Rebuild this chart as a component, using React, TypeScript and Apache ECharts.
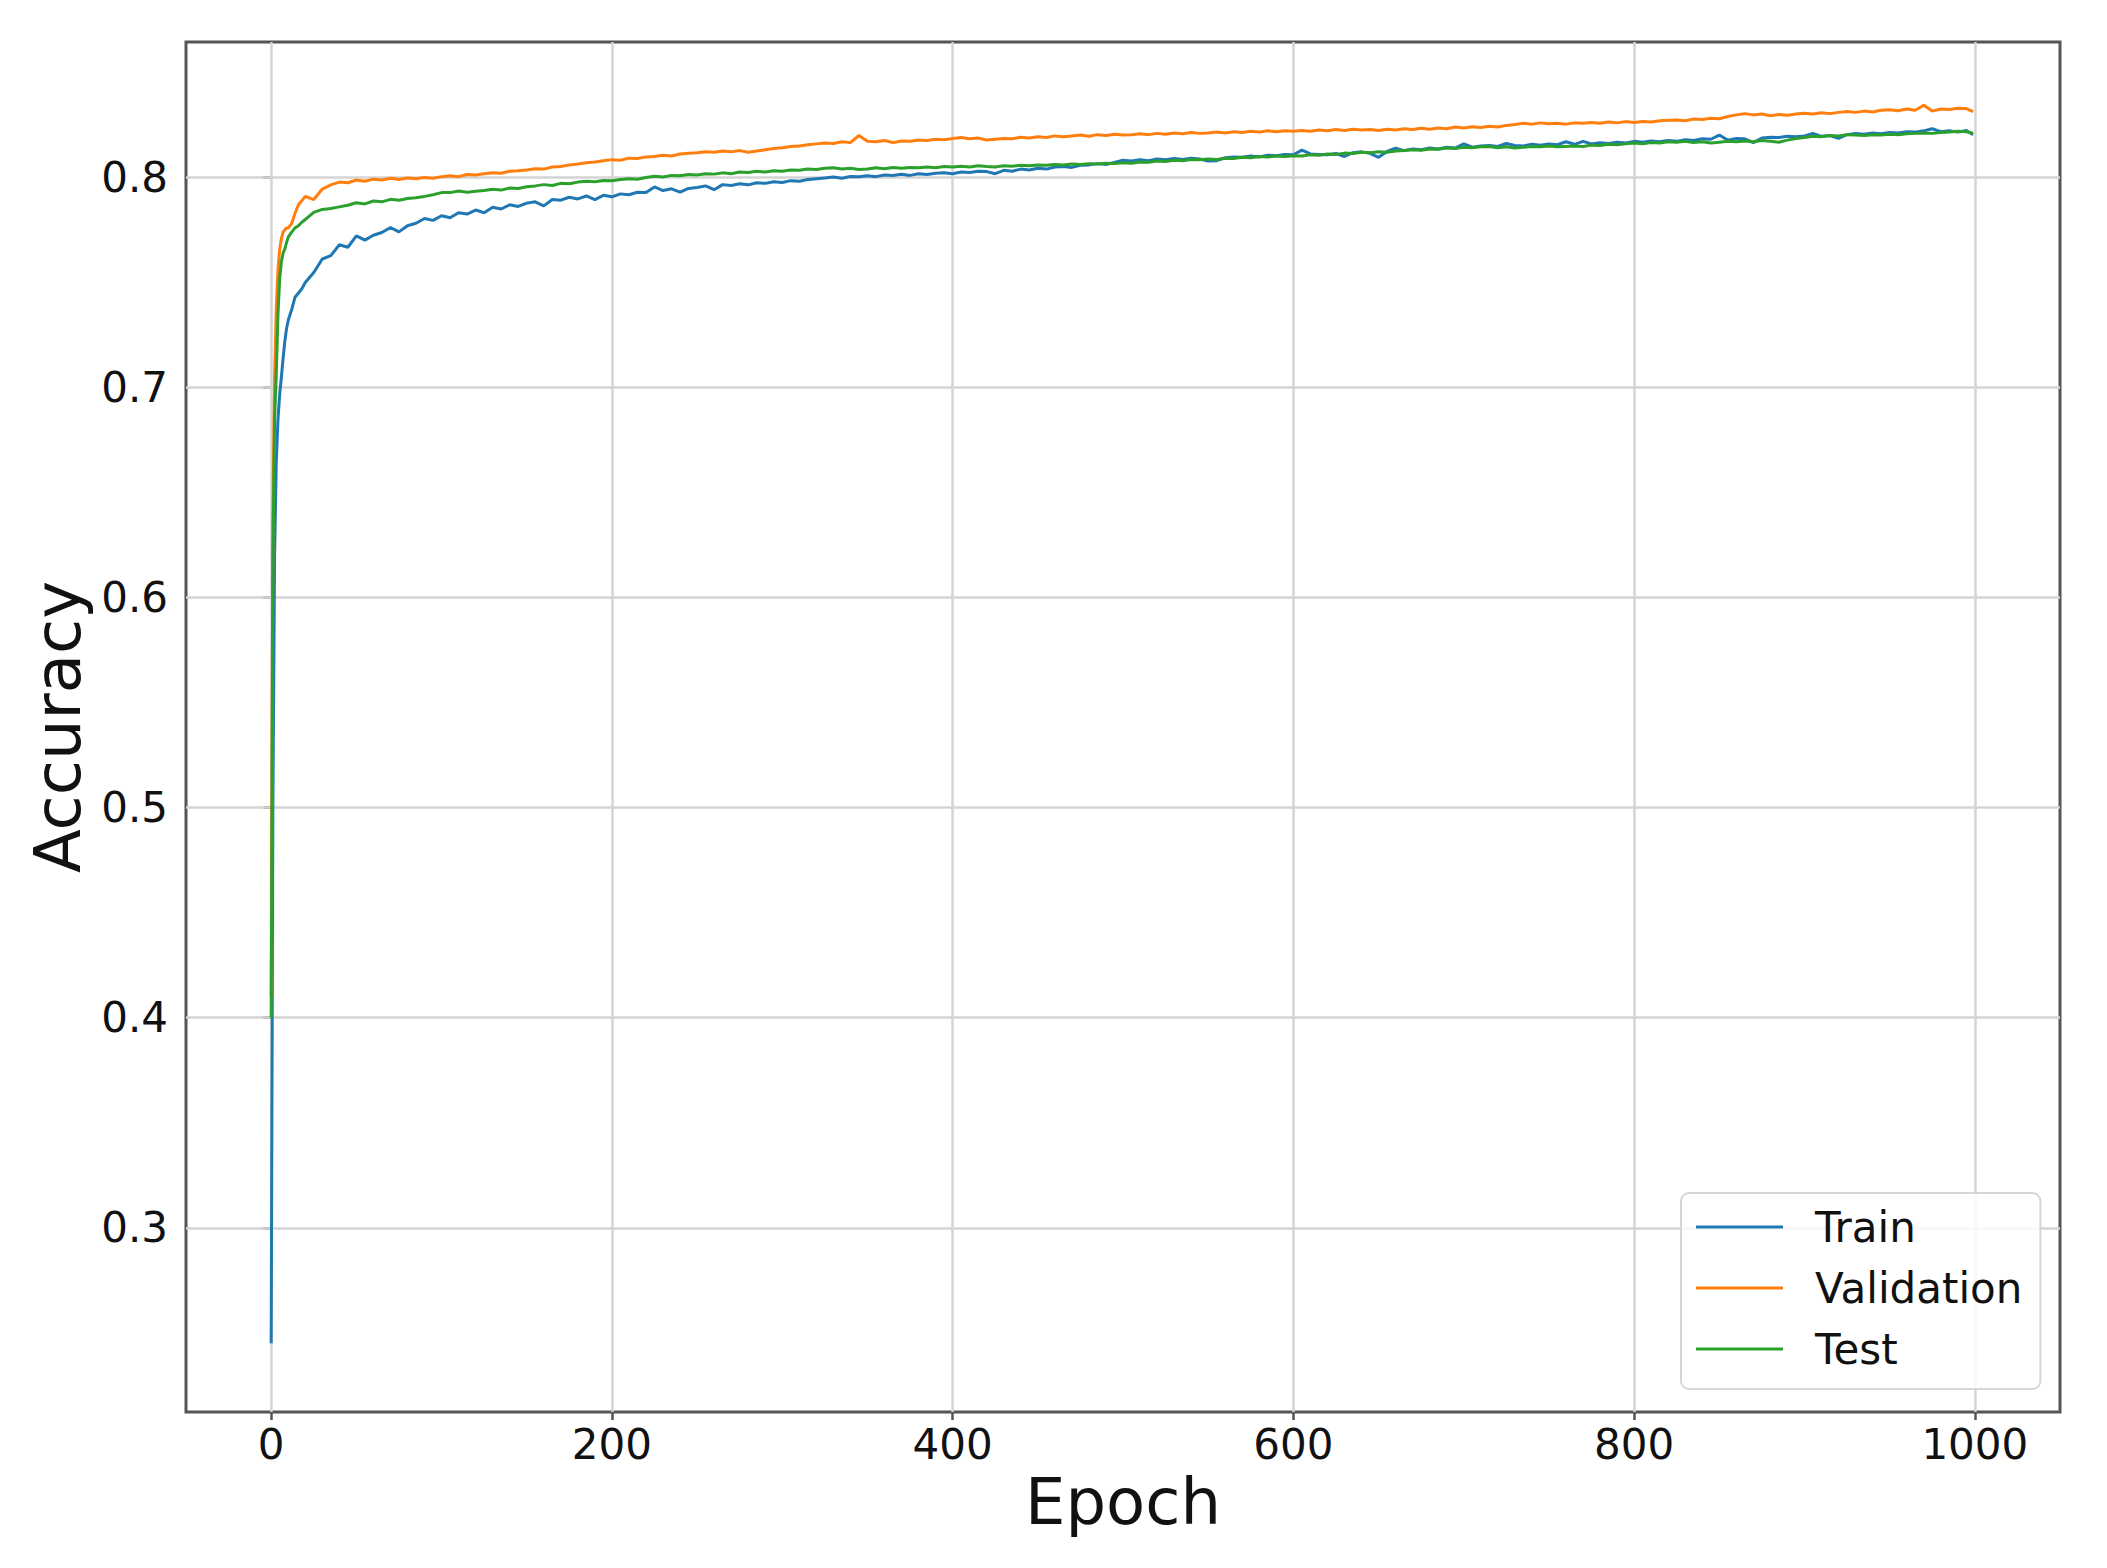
import React, { useEffect, useRef } from "react";
import * as echarts from "echarts";

const EPOCHS = [
  0, 1, 2, 3, 4, 5, 6, 7, 8, 9, 10, 12, 14, 16, 18,
  20, 25, 30, 35, 40, 45, 50, 55, 60, 65,
  70, 75, 80, 85, 90, 95, 100, 105, 110, 115,
  120, 125, 130, 135, 140, 145, 150, 155, 160, 165,
  170, 175, 180, 185, 190, 195, 200, 205, 210, 215,
  220, 225, 230, 235, 240, 245, 250, 255, 260, 265,
  270, 275, 280, 285, 290, 295, 300, 305, 310, 315,
  320, 325, 330, 335, 340, 345, 350, 355, 360, 365,
  370, 375, 380, 385, 390, 395, 400, 405, 410, 415,
  420, 425, 430, 435, 440, 445, 450, 455, 460, 465,
  470, 475, 480, 485, 490, 495, 500, 505, 510, 515,
  520, 525, 530, 535, 540, 545, 550, 555, 560, 565,
  570, 575, 580, 585, 590, 595, 600, 605, 610, 615,
  620, 625, 630, 635, 640, 645, 650, 655, 660, 665,
  670, 675, 680, 685, 690, 695, 700, 705, 710, 715,
  720, 725, 730, 735, 740, 745, 750, 755, 760, 765,
  770, 775, 780, 785, 790, 795, 800, 805, 810, 815,
  820, 825, 830, 835, 840, 845, 850, 855, 860, 865,
  870, 875, 880, 885, 890, 895, 900, 905, 910, 915,
  920, 925, 930, 935, 940, 945, 950, 955, 960, 965,
  970, 975, 980, 985, 990, 995, 999,
];

const TRAIN = [
  0.245, 0.5, 0.62, 0.665, 0.685, 0.697, 0.705, 0.714, 0.722, 0.728, 0.732, 0.737, 0.743, 0.745, 0.747,
  0.75, 0.7548, 0.7612, 0.7628, 0.768, 0.7668, 0.7722, 0.7702, 0.7725, 0.7738,
  0.7762, 0.7741, 0.777, 0.7782, 0.7805, 0.7796, 0.7818, 0.7808, 0.7832, 0.7826,
  0.7845, 0.7832, 0.7858, 0.785, 0.787, 0.7862, 0.7878, 0.7884, 0.7865, 0.7895,
  0.7892, 0.7906, 0.7898, 0.7912, 0.7895, 0.7915, 0.7908, 0.7922, 0.7918, 0.793,
  0.7928, 0.7955, 0.7938, 0.7946, 0.793, 0.7948, 0.7952, 0.796, 0.7942, 0.7966,
  0.7962, 0.797, 0.7965, 0.7975, 0.7972, 0.798, 0.7976, 0.7985, 0.7982, 0.799,
  0.7994, 0.7998, 0.8002, 0.7996, 0.8005, 0.8003, 0.8008, 0.8004, 0.8012, 0.801,
  0.8015, 0.801, 0.8018, 0.8014, 0.802, 0.8022, 0.8018, 0.8026, 0.8024, 0.803,
  0.8028, 0.8018, 0.8034, 0.803, 0.804, 0.8036, 0.8044, 0.804, 0.805, 0.8052,
  0.8048, 0.8058, 0.806, 0.8066, 0.8062, 0.8072, 0.8082, 0.8078, 0.8084, 0.808,
  0.8088, 0.8084, 0.809, 0.8086, 0.8092, 0.8088, 0.8078, 0.808, 0.8094, 0.8098,
  0.8096, 0.8102, 0.8098, 0.8106, 0.8104, 0.811, 0.8108, 0.813, 0.8112, 0.811,
  0.8108, 0.8114, 0.81, 0.8118, 0.8122, 0.8115, 0.8096, 0.8124, 0.814, 0.8128,
  0.8136, 0.8132, 0.814, 0.8136, 0.8144, 0.814, 0.816, 0.8144, 0.815, 0.8152,
  0.8148, 0.8162, 0.8152, 0.815, 0.8158, 0.8154, 0.816, 0.8156, 0.817, 0.8158,
  0.8172, 0.816, 0.8166, 0.8162, 0.8168, 0.8164, 0.8172, 0.8168, 0.8174, 0.817,
  0.8176, 0.8172, 0.818, 0.8176, 0.8184, 0.8182, 0.8202, 0.8178, 0.8186, 0.8184,
  0.8166, 0.8188, 0.8192, 0.819, 0.8196, 0.8194, 0.8198, 0.821, 0.8196, 0.82,
  0.8186, 0.8204, 0.821, 0.8206, 0.8212, 0.8208, 0.8214, 0.8212, 0.8218, 0.8216,
  0.8222, 0.8232, 0.8218, 0.8222, 0.8216, 0.8224, 0.8203,
];

const VALIDATION = [
  0.41, 0.64, 0.705, 0.738, 0.756, 0.766, 0.771, 0.774, 0.775, 0.776, 0.776, 0.778, 0.783, 0.787, 0.789,
  0.791, 0.7895, 0.7945, 0.7965, 0.7978, 0.7975, 0.7988, 0.7982, 0.7992, 0.7988,
  0.7996, 0.799, 0.7998, 0.7994, 0.8, 0.7996, 0.8004, 0.8008, 0.8004, 0.8014,
  0.8012, 0.8018, 0.8022, 0.802, 0.803, 0.8032, 0.8036, 0.8042, 0.804, 0.805,
  0.8052, 0.806, 0.8064, 0.807, 0.8074, 0.808, 0.8085, 0.8082, 0.8092, 0.809,
  0.8098, 0.81, 0.8106, 0.8102, 0.8112, 0.8115, 0.8118, 0.8122, 0.812, 0.8126,
  0.8122, 0.8128, 0.812, 0.8126, 0.8132, 0.8138, 0.8142, 0.8148, 0.815, 0.8156,
  0.816, 0.8164, 0.8162, 0.817, 0.8166, 0.82, 0.8172, 0.817, 0.8176, 0.8166,
  0.8174, 0.8172, 0.8178, 0.8176, 0.8182, 0.818, 0.8186, 0.819, 0.8184, 0.8188,
  0.8178, 0.8182, 0.8186, 0.8184, 0.8192, 0.8188, 0.8194, 0.819, 0.8198, 0.8194,
  0.8198, 0.8202, 0.8196, 0.8204, 0.82, 0.8206, 0.8202, 0.8204, 0.8208, 0.8204,
  0.821, 0.8206, 0.8212, 0.8208, 0.8214, 0.821, 0.8212, 0.8216, 0.8212, 0.8218,
  0.8214, 0.822, 0.8216, 0.8222, 0.8218, 0.8222, 0.822, 0.8224, 0.822, 0.8226,
  0.8222, 0.8228, 0.8224, 0.823, 0.8226, 0.8228, 0.8224, 0.823, 0.8226, 0.8232,
  0.8228, 0.8234, 0.823, 0.8236, 0.8232, 0.824, 0.8236, 0.8242, 0.8238, 0.8244,
  0.824, 0.8248, 0.8252, 0.8258, 0.8254, 0.826, 0.8256, 0.8258, 0.8254, 0.826,
  0.8258, 0.8262, 0.8258, 0.8264, 0.826, 0.8266, 0.8262, 0.8266, 0.8264, 0.827,
  0.8272, 0.8274, 0.827, 0.8278, 0.8276, 0.8282, 0.828, 0.829, 0.8298, 0.8304,
  0.8298, 0.8302, 0.8294, 0.83, 0.8296, 0.8302, 0.8306, 0.8302, 0.8308, 0.8304,
  0.831, 0.8314, 0.831, 0.8316, 0.8312, 0.832, 0.8322, 0.8318, 0.8326, 0.832,
  0.8344, 0.8316, 0.8326, 0.8324, 0.833, 0.8328, 0.8314,
];

const TEST = [
  0.4, 0.62, 0.685, 0.707, 0.735, 0.752, 0.76, 0.764, 0.766, 0.769, 0.7716, 0.774, 0.776, 0.777, 0.7787,
  0.78, 0.7834, 0.7848, 0.7852, 0.786, 0.7868, 0.788, 0.7874, 0.7888, 0.7884,
  0.7896, 0.7892, 0.79, 0.7904, 0.791, 0.7918, 0.7928, 0.7928, 0.7936, 0.793,
  0.7934, 0.7938, 0.7944, 0.794, 0.795, 0.7948, 0.7956, 0.796, 0.7966, 0.7962,
  0.7972, 0.797, 0.7978, 0.7982, 0.798, 0.7986, 0.7984, 0.799, 0.7994, 0.7992,
  0.8, 0.8006, 0.8002, 0.801, 0.8008, 0.8014, 0.8012, 0.8018, 0.8016, 0.8022,
  0.8018, 0.8026, 0.8024, 0.803, 0.8026, 0.8032, 0.803, 0.8036, 0.8034, 0.804,
  0.8038, 0.8044, 0.8046, 0.804, 0.8044, 0.8038, 0.804, 0.8046, 0.8042, 0.8048,
  0.8044, 0.8048, 0.8046, 0.805, 0.8046, 0.8052, 0.805, 0.8054, 0.805, 0.8056,
  0.8052, 0.805, 0.8056, 0.8054, 0.8058, 0.8056, 0.806, 0.8058, 0.8062, 0.806,
  0.8064, 0.8062, 0.8066, 0.8064, 0.8068, 0.8066, 0.807, 0.8068, 0.8074, 0.8072,
  0.8078, 0.8076, 0.8082, 0.808, 0.8086, 0.8084, 0.8088, 0.8086, 0.8092, 0.809,
  0.8096, 0.8094, 0.81, 0.8098, 0.8102, 0.81, 0.8104, 0.8102, 0.8108, 0.8106,
  0.8112, 0.811, 0.8116, 0.8114, 0.812, 0.8118, 0.8122, 0.812, 0.8126, 0.8128,
  0.8132, 0.813, 0.8136, 0.8134, 0.814, 0.8138, 0.8144, 0.8142, 0.8146, 0.8148,
  0.8142, 0.8146, 0.814, 0.8144, 0.8148, 0.8146, 0.815, 0.8146, 0.8148, 0.815,
  0.8148, 0.8154, 0.8152, 0.8158, 0.8156, 0.816, 0.8164, 0.816, 0.8166, 0.8164,
  0.817, 0.8168, 0.8172, 0.8166, 0.817, 0.8164, 0.8168, 0.8172, 0.817, 0.8174,
  0.817, 0.8176, 0.8172, 0.8168, 0.8178, 0.8186, 0.819, 0.8196, 0.8194, 0.82,
  0.8198, 0.8204, 0.8202, 0.82, 0.8204, 0.8202, 0.8206, 0.8204, 0.8208, 0.821,
  0.8212, 0.821, 0.8214, 0.8216, 0.822, 0.8218, 0.8211,
];

const X_TICKS = [0, 200, 400, 600, 800, 1000];
const Y_TICKS = [0.3, 0.4, 0.5, 0.6, 0.7, 0.8];
const X_RANGE = [-50, 1050];
const Y_RANGE = [0.2123, 0.8645];

const SERIES_NAMES = ["Train", "Validation", "Test"];
const COLORS = ["#1f77b4", "#ff7f0e", "#2ca02c"];

const FONT = "DejaVu Sans";

function zip(xs: number[], ys: number[]) {
  const n = Math.min(xs.length, ys.length);
  const out: number[][] = [];
  for (let i = 0; i < n; i++) out.push([xs[i], ys[i]]);
  return out;
}

export default function App() {
  const ref = useRef<HTMLDivElement>(null);
  useEffect(() => {
    document.body.style.margin = "0";
    if (!ref.current) return;
    const chart = echarts.init(ref.current, undefined, { renderer: "svg" });
    const gridColor = "#d4d4d4";
    const frameColor = "#555555";
    const seriesData = [TRAIN, VALIDATION, TEST];
    const option: any = {
      animation: false,
      backgroundColor: "#ffffff",
      grid: {
        left: 186,
        top: 42,
        right: 47,
        bottom: 156,
        show: true,
        borderColor: frameColor,
        borderWidth: 3,
        backgroundColor: "transparent",
      },
      xAxis: {
        type: "value",
        min: X_RANGE[0],
        max: X_RANGE[1],
        name: "Epoch",
        nameLocation: "middle",
        nameGap: 57,
        nameTextStyle: { fontFamily: FONT, fontSize: 64, color: "#111" },
        axisLine: { show: false },
        splitLine: { show: false },
        axisTick: {
          show: true,
          customValues: X_TICKS,
          length: 8,
          lineStyle: { color: frameColor, width: 2.5 },
        },
        axisLabel: {
          customValues: X_TICKS,
          margin: 11,
          fontFamily: FONT,
          fontSize: 42,
          color: "#111",
          formatter: (v: number) => String(v),
        },
      },
      yAxis: {
        type: "value",
        min: Y_RANGE[0],
        max: Y_RANGE[1],
        name: "Accuracy",
        nameLocation: "middle",
        nameRotate: 90,
        nameGap: 93,
        nameTextStyle: { fontFamily: FONT, fontSize: 64, color: "#111" },
        axisLine: { show: false },
        splitLine: { show: false },
        axisTick: {
          show: true,
          customValues: Y_TICKS,
          length: 8,
          lineStyle: { color: frameColor, width: 2.5 },
        },
        axisLabel: {
          customValues: Y_TICKS,
          margin: 18,
          fontFamily: FONT,
          fontSize: 42,
          color: "#111",
          formatter: (v: number) => v.toFixed(1),
        },
      },
      legend: {
        orient: "vertical",
        left: 1681,
        top: 1193,
        z: 20,
        data: SERIES_NAMES,
        icon: "rect",
        itemWidth: 87,
        itemHeight: 3,
        itemGap: 11,
        padding: [9, 18, 15, 15],
        backgroundColor: "rgba(255,255,255,0.8)",
        borderColor: "#d6d6d6",
        borderWidth: 2,
        borderRadius: 8,
        textStyle: {
          fontFamily: FONT,
          fontSize: 42,
          color: "#111",
          lineHeight: 50,
          padding: [0, 0, 0, 27],
        },
      },
      series: [
        {
          type: "line",
          name: "__grid",
          data: [],
          silent: true,
          z: 1,
          markLine: {
            silent: true,
            z: 1,
            symbol: ["none", "none"],
            label: { show: false },
            lineStyle: { color: gridColor, width: 2.5, type: "solid" },
            data: [
              ...X_TICKS.map((v) => ({ xAxis: v })),
              ...Y_TICKS.map((v) => ({ yAxis: v })),
            ],
          },
        },
        ...SERIES_NAMES.map((name, i) => ({
          type: "line",
          name,
          data: zip(EPOCHS, seriesData[i]),
          showSymbol: false,
          symbol: "none",
          z: 3,
          color: COLORS[i],
          lineStyle: { color: COLORS[i], width: 3 },
        })),
      ],
    };
    chart.setOption(option);
    return () => chart.dispose();
  }, []);
  return (
    <div
      ref={ref}
      style={{ width: 2107, height: 1568, overflow: "hidden" }}
    />
  );
}
